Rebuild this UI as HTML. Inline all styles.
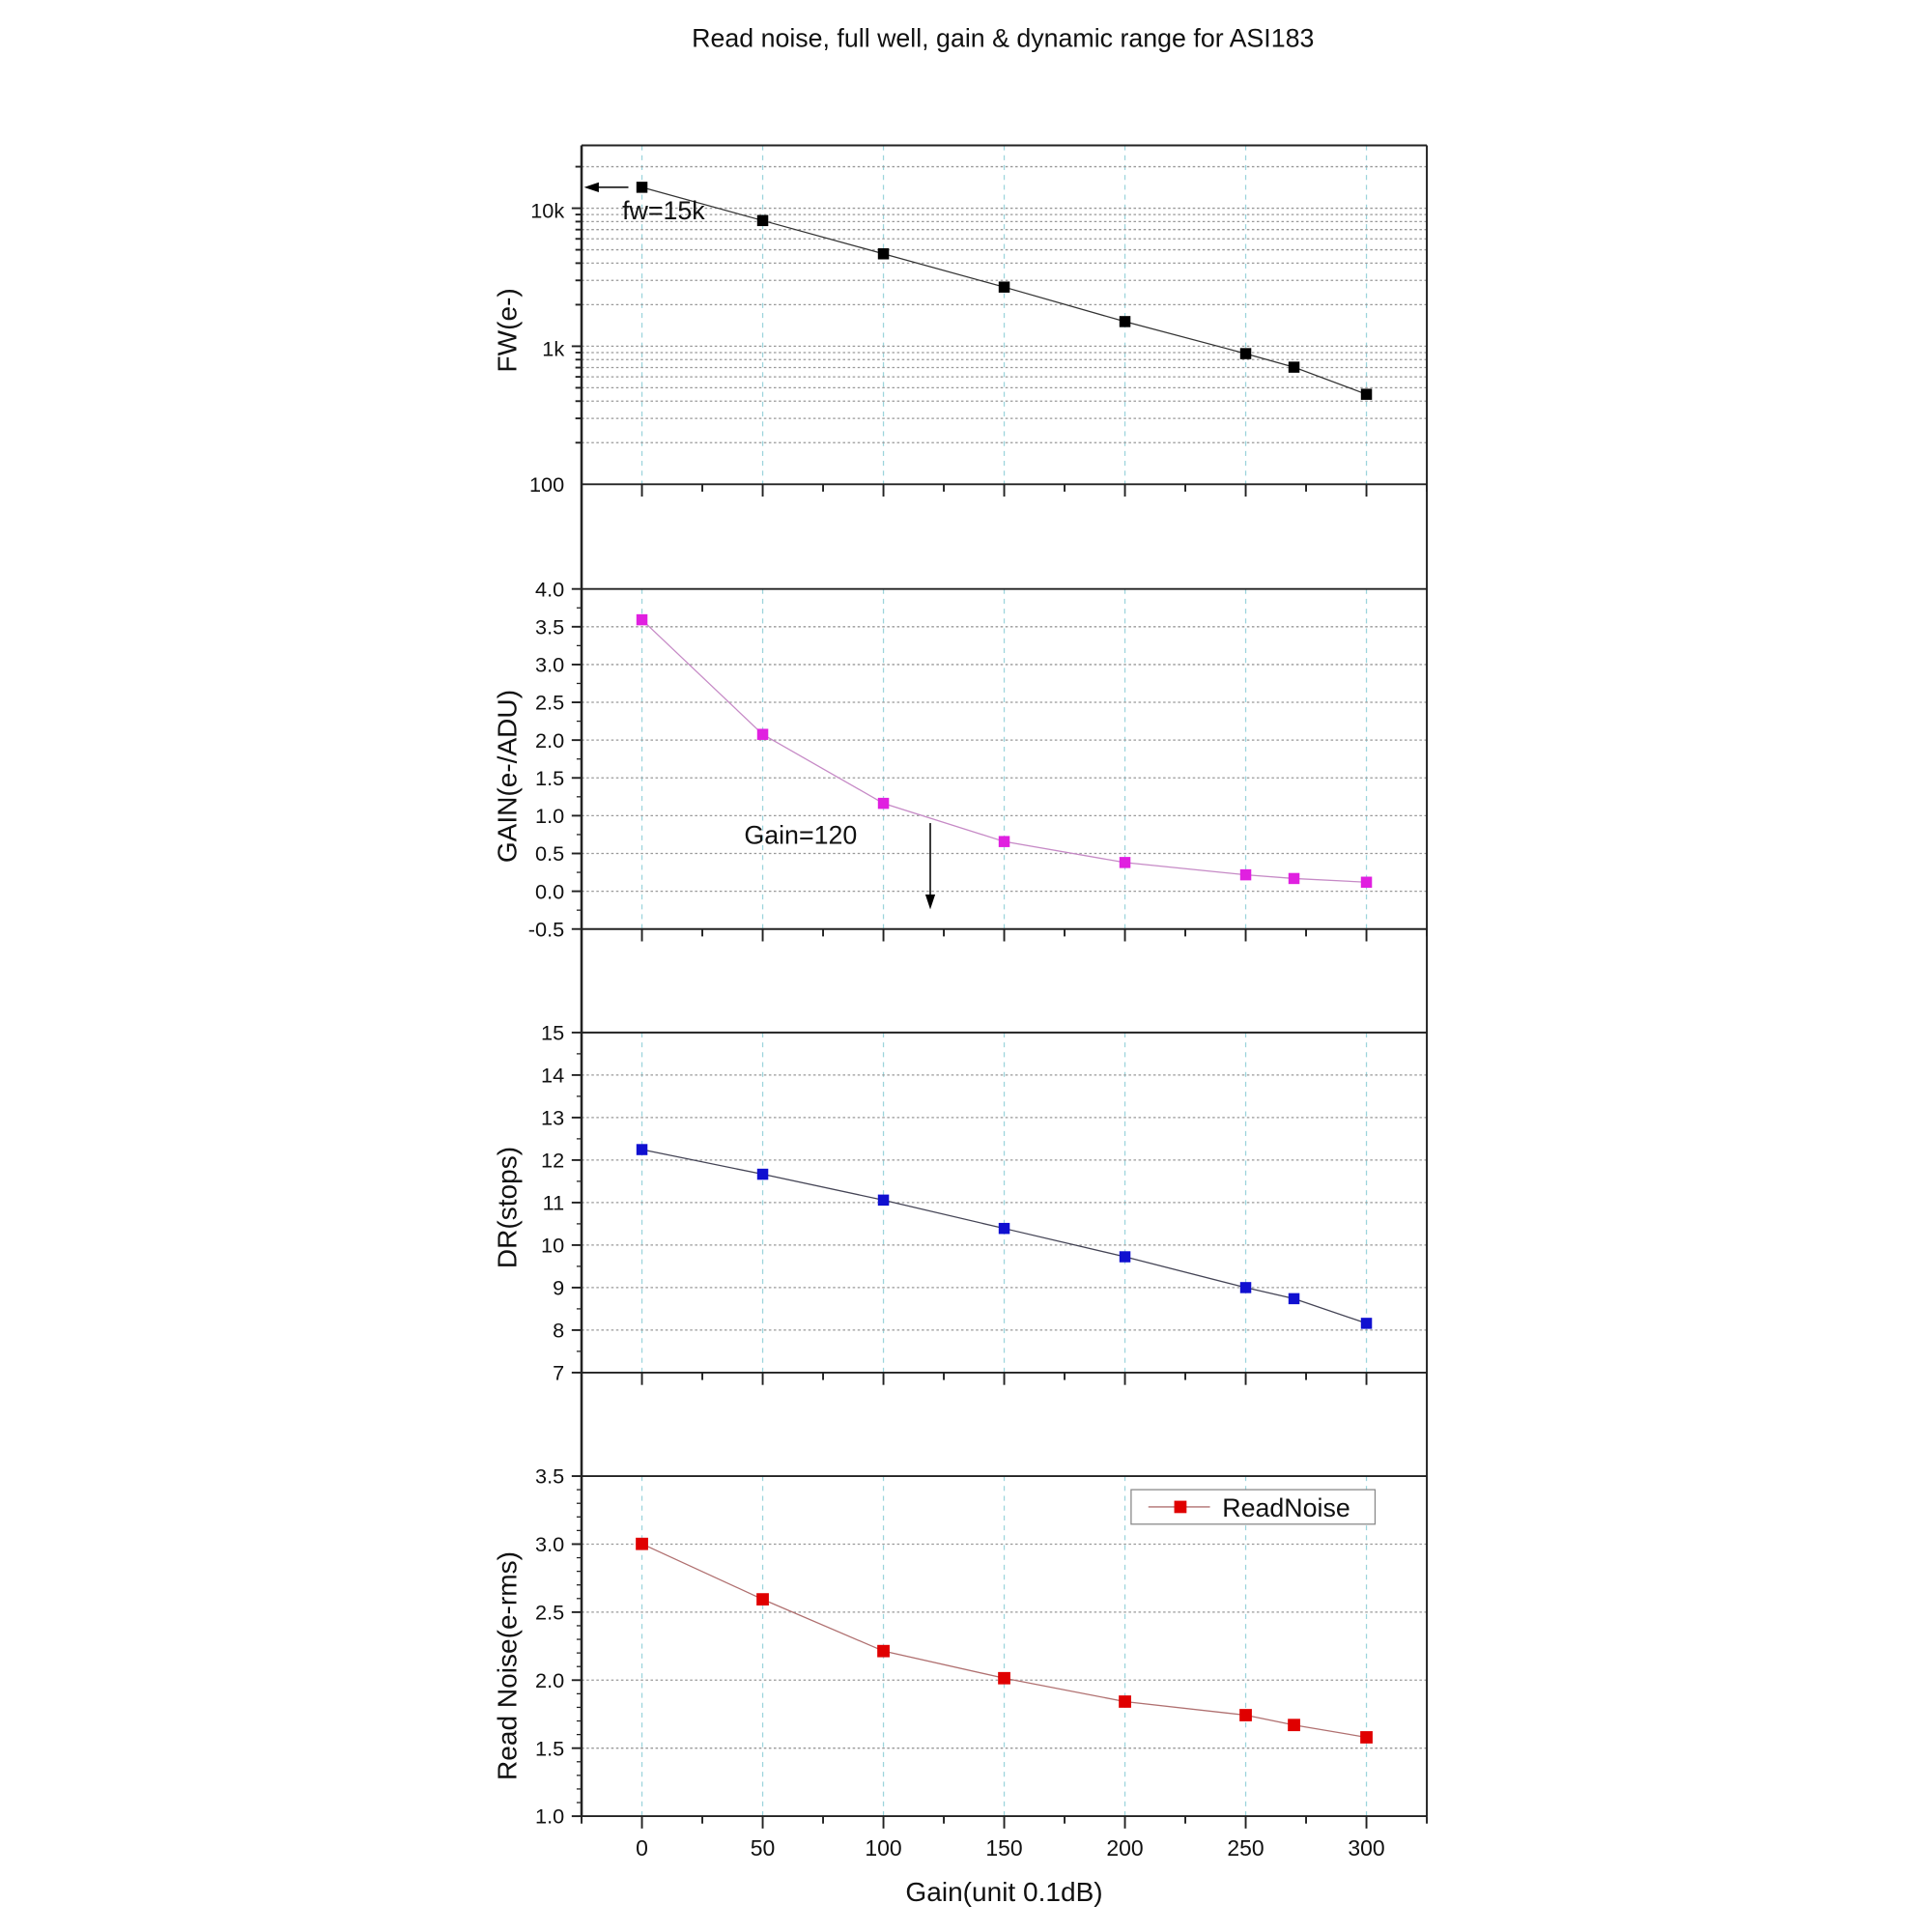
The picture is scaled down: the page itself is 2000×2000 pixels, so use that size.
<!DOCTYPE html>
<html><head><meta charset="utf-8"><style>html,body{margin:0;padding:0;background:#fff}svg{display:block}text{font-family:"Liberation Sans",sans-serif}</style></head>
<body>
<svg id="s" width="2000" height="2000" viewBox="0 0 1568 1568" xmlns="http://www.w3.org/2000/svg">
<rect width="1568" height="1568" fill="#fff"/>
<text x="814" y="38" font-size="21" text-anchor="middle" fill="#111">Read noise, full well, gain &amp; dynamic range for ASI183</text>
<g id="g"></g>
</svg>
<script>
const g=document.getElementById('g');let h='';
const L=472,R=1158,X=v=>521+v*(588/300);
const P=[[118,393],[478,754],[838,1114],[1198,1474]];
function line(x1,y1,x2,y2,st){h+=`<line x1="${x1}" y1="${y1}" x2="${x2}" y2="${y2}" ${st}/>`;}
function txt(x,y,t,sz,anc,extra){h+=`<text x="${x}" y="${y}" font-size="${sz}" text-anchor="${anc}" fill="#111" ${extra||''}>${t}</text>`;}
const HG='stroke="#999" stroke-width="1" stroke-dasharray="2,2"';
const VG='stroke="#9cd4dc" stroke-width="1" stroke-dasharray="4,4"';
P.forEach(([t,b])=>{for(let v=0;v<=300;v+=50)line(X(v),t,X(v),b,VG);});
const ly=v=>393-(Math.log10(v)-2)*112;
[100,1000,10000].forEach(d=>{for(let m=1;m<=9;m++){const v=d*m;if(v<=100)continue;const y=ly(v);if(y<118)continue;line(L,y,R,y,HG);line(L-(m==1?8:5),y,L,y,'stroke="#222" stroke-width="1.5"');}});
txt(458,399,'100',17,'end');txt(458,289,'1k',17,'end');txt(458,177,'10k',17,'end');
function lin(pi,vmin,vmax,step,minor,grids,labs,fmt){const[t,b]=P[pi];const Y=v=>b-(v-vmin)/(vmax-vmin)*(b-t);
 grids.forEach(v=>line(L,Y(v),R,Y(v),HG));
 for(let v=vmin;v<=vmax+1e-9;v+=minor){line(L-4,Y(v),L,Y(v),'stroke="#222" stroke-width="1"');}
 labs.forEach(v=>{line(L-8,Y(v),L,Y(v),'stroke="#222" stroke-width="1.5"');txt(458,Y(v)+6,fmt(v),17,'end');});return Y;}
lin(1,-0.5,4,0.25,0.25,[3.5,3,2.5,2,1.5,1,0.5,0],[4,3.5,3,2.5,2,1.5,1,0.5,0,-0.5],v=>v.toFixed(1));
lin(2,7,15,1,0.5,[14,13,12,11,10,9,8],[15,14,13,12,11,10,9,8,7],v=>v);
lin(3,1,3.5,0.5,0.1,[3,2.5,2,1.5],[3.5,3,2.5,2,1.5,1],v=>v.toFixed(1));
line(L,118,L,1474,'stroke="#222" stroke-width="2"');line(R,118,R,1474,'stroke="#222" stroke-width="1.5"');
[118,393,478,754,838,1114,1198,1474].forEach(y=>line(L,y,R,y,'stroke="#222" stroke-width="1.5"'));
P.forEach(([t,b])=>{for(let v=-25;v<=325;v+=25){const x=X(v);if(x<L||x>R)continue;line(x,b,x,b+(v%50==0?10:6),'stroke="#222" stroke-width="1.5"');}});
for(let v=0;v<=300;v+=50)txt(X(v),1506,v,18,'middle');
txt(815,1543,'Gain(unit 0.1dB)',22,'middle');
function yt(y,t){txt(0,0,t,22,'middle',`transform="translate(419,${y}) rotate(-90)"`);}
yt(268,'FW(e-)');yt(630,'GAIN(e-/ADU)');yt(980,'DR(stops)');yt(1352,'Read Noise(e-rms)');
const xs=[0,50,100,150,200,250,270,300];
function ser(ys,lc,mc,sz){h+=`<polyline points="${xs.map((v,i)=>X(v)+','+ys[i]).join(' ')}" fill="none" stroke="${lc}" stroke-width="1"/>`;
 xs.forEach((v,i)=>h+=`<rect x="${X(v)-sz/2}" y="${ys[i]-sz/2}" width="${sz}" height="${sz}" fill="${mc}"/>`);}
ser([152,179,206,233,261,287,298,320],'#333','#000',9);
ser([503,596,652,683,700,710,713,716],'#c68ac6','#e020e0',9);
ser([933,953,974,997,1020,1045,1054,1074],'#445','#1010d0',9);
ser([1253,1298,1340,1362,1381,1392,1400,1410],'#b07070','#e00000',10);
line(510,152,480,152,'stroke="#000" stroke-width="1.2"');h+='<polygon points="474,152 486,148 486,156" fill="#000"/>';
txt(505,178,'fw=15k',21,'start');
txt(604,685,'Gain=120',21,'start');
line(755,668,755,730,'stroke="#000" stroke-width="1.2"');h+='<polygon points="755,738 751,726 759,726" fill="#000"/>';
h+='<rect x="918" y="1209" width="198" height="28" fill="#fff" stroke="#888" stroke-width="1"/>';
line(932,1223,982,1223,'stroke="#b07070" stroke-width="1"');h+='<rect x="953" y="1218" width="10" height="10" fill="#e00000"/>';
txt(992,1231,'ReadNoise',21,'start');
g.innerHTML=h;
</script>
</body></html>
